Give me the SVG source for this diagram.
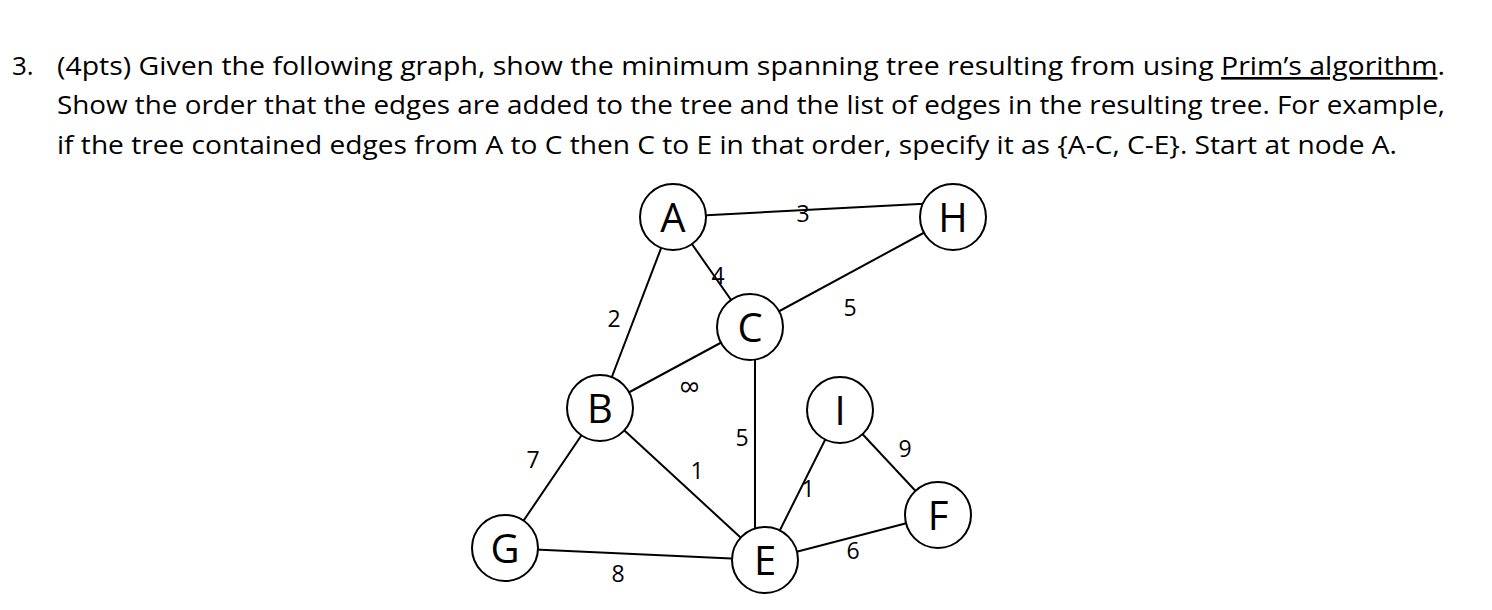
<svg xmlns="http://www.w3.org/2000/svg" width="1492" height="610" viewBox="0 0 1492 610">
<style>
.t{font-family:"Open Sans","Liberation Sans",sans-serif;font-size:26px;fill:#000}
.n circle{fill:#fff;stroke:#000;stroke-width:2}
.n text{font-family:"Open Sans","Liberation Sans",sans-serif;font-size:40px;text-anchor:middle;fill:#000}
.e line{stroke:#000;stroke-width:2}
.w{font-family:"Open Sans","Liberation Sans",sans-serif;font-size:23px;text-anchor:middle;fill:#000}
</style>
<rect width="1492" height="610" fill="#fff"/>
<text class="t" x="12" y="75">3.</text>
<text class="t" x="57" y="75" textLength="1388" lengthAdjust="spacingAndGlyphs">(4pts) Given the following graph, show the minimum spanning tree resulting from using <tspan text-decoration="underline">Prim’s algorithm</tspan>.</text>
<text class="t" x="57" y="114" textLength="1388" lengthAdjust="spacingAndGlyphs">Show the order that the edges are added to the tree and the list of edges in the resulting tree. For example,</text>
<text class="t" x="57" y="154" textLength="1340" lengthAdjust="spacingAndGlyphs">if the tree contained edges from A to C then C to E in that order, specify it as {A-C, C-E}. Start at node A.</text>
<g id="edges" class="e">
<line x1="673" y1="217" x2="953" y2="217" transform="rotate(-3 673 217)"/>
<line x1="673" y1="217" x2="750" y2="327"/>
<line x1="673" y1="217" x2="600" y2="408"/>
<line x1="750" y1="327" x2="953" y2="217"/>
<line x1="600" y1="408" x2="750" y2="327"/>
<line x1="755" y1="327" x2="755" y2="560"/>
<line x1="600" y1="408" x2="765" y2="560"/>
<line x1="765" y1="560" x2="840" y2="410"/>
<line x1="840" y1="410" x2="938" y2="515"/>
<line x1="765" y1="560" x2="938" y2="515"/>
<line x1="505" y1="548" x2="765" y2="560"/>
<line x1="505" y1="548" x2="600" y2="408"/>
</g>
<g id="weights">
<text class="w" x="803" y="222">3</text>
<text class="w" x="718" y="284">4</text>
<text class="w" x="614" y="327">2</text>
<text class="w" x="850" y="316">5</text>
<text class="w" x="689" y="395" transform="rotate(90 689 387)">8</text>
<text class="w" x="742" y="446">5</text>
<text class="w" x="697" y="479">1</text>
<text class="w" x="808" y="497">1</text>
<text class="w" x="905" y="457">9</text>
<text class="w" x="853" y="559">6</text>
<text class="w" x="618" y="582">8</text>
<text class="w" x="533" y="468">7</text>
</g>
<g id="A" class="n"><circle cx="673" cy="217" r="33"/><text x="673" y="232">A</text></g>
<g id="H" class="n"><circle cx="953" cy="217" r="33"/><text x="953" y="232">H</text></g>
<g id="C" class="n"><circle cx="750" cy="327" r="33"/><text x="750" y="342">C</text></g>
<g id="B" class="n"><circle cx="600" cy="408" r="33"/><text x="600" y="423">B</text></g>
<g id="I" class="n"><circle cx="840" cy="410" r="33"/><text x="840" y="425">I</text></g>
<g id="F" class="n"><circle cx="938" cy="515" r="33"/><text x="938" y="530">F</text></g>
<g id="G" class="n"><circle cx="505" cy="548" r="33"/><text x="505" y="563">G</text></g>
<g id="E" class="n"><circle cx="765" cy="560" r="33"/><text x="765" y="575">E</text></g>
</svg>
